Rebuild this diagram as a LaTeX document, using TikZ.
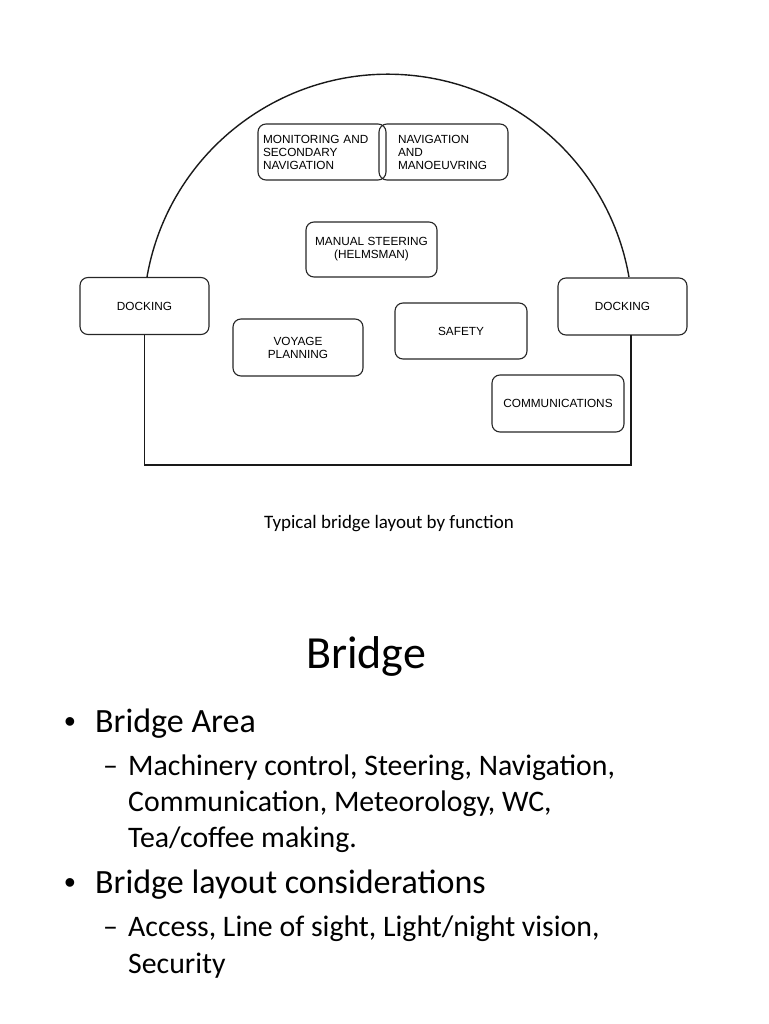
\documentclass[tikz,border=0pt]{standalone}
\usepackage{fontspec}
\setmainfont{Carlito}
\newfontfamily\diagfont{Liberation Sans}
\usetikzlibrary{positioning}
\tikzset{
    zone/.style={draw=black!85, line width=1.1pt, rounded corners=8pt,
        font=\diagfont\fontsize{11.8}{13}\selectfont, align=center,
        minimum width=130pt, minimum height=56pt, inner sep=2pt},
    wall/.style={draw=black!90, line width=1.4pt},
    bullet/.style={anchor=base, inner sep=0pt, font=\diagfont\fontsize{32}{38}\selectfont},
    head/.style={anchor=base west, inner sep=0pt, font=\fontsize{34}{40}\selectfont},
    sub/.style={anchor=base west, inner sep=0pt, font=\fontsize{29.8}{36}\selectfont}
}

\begin{document}
\begin{tikzpicture}[x=1pt, y=-1pt]
    \useasboundingbox (0, 0) rectangle (768, 1024);

    % bridge plan
    \node[zone, minimum width=129pt, minimum height=57pt] (dockL) at (144.5, 306) {DOCKING};
    \node[zone, minimum width=129pt, minimum height=57pt] (dockR) at (622.5, 306.5) {DOCKING};
    \node[zone, align=left, text width=118pt, inner xsep=5pt, minimum width=128pt] (monitor) at (322, 152)
        {MONITORING AND\\SECONDARY\\NAVIGATION};
    \node[zone, align=left, text width=91pt, inner xsep=19pt, minimum width=129pt] (nav) at (443.5, 152)
        {NAVIGATION\\AND\\MANOEUVRING};
    \node[zone, minimum width=131pt, minimum height=55pt] (steer) at (371.5, 249.5) {MANUAL STEERING\\(HELMSMAN)};
    \node[zone, minimum height=57pt] (voyage) at (298, 347.5) {VOYAGE\\PLANNING};
    \node[zone, minimum width=132pt] (safety) at (461, 331) {SAFETY};
    \node[zone, minimum width=132pt, minimum height=57pt] (comms) at (558, 403.5) {COMMUNICATIONS};

    \coordinate (floor) at (0, 465);
    \coordinate (wallR) at (631, 335);
    \draw[wall] (dockL.south) -- (dockL.south |- floor) -- (wallR |- floor) -- (wallR);
    \draw[wall] ([xshift=2.5pt]dockL.north) arc[start angle=189.86, end angle=350.14, radius=244.6];

    \node[anchor=base, font=\fontsize{19}{23}\selectfont] (caption) at (389, 528) {Typical bridge layout by function};

    % slide text
    \node[anchor=base, font=\fontsize{46}{54}\selectfont] (title) at (366, 668) {Bridge};

    \node[bullet] (b1) at (70, 732) {•};
    \node[head] (area) at (95, 732) {Bridge Area};
    \node[sub] (d1) at (103, 775) {–};
    \node[sub] (area1) at (128, 775) {Machinery control, Steering, Navigation,};
    \node[sub] (area2) at (128, 811) {Communication, Meteorology, WC,};
    \node[sub] (area3) at (128, 847) {Tea/coffee making.};

    \node[bullet] (b2) at (70, 893) {•};
    \node[head] (layout) at (95, 893) {Bridge layout considerations};
    \node[sub] (d2) at (103, 936) {–};
    \node[sub] (layout1) at (128, 936) {Access, Line of sight, Light/night vision,};
    \node[sub] (layout2) at (128, 973) {Security};
\end{tikzpicture}
\end{document}
